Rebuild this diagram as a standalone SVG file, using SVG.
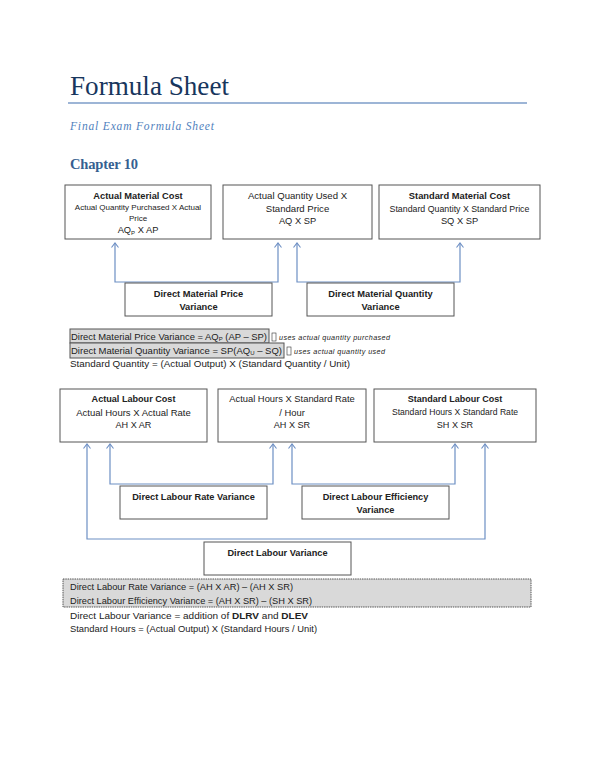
<svg xmlns="http://www.w3.org/2000/svg" width="595" height="770" viewBox="0 0 595 770">
<defs>
<marker id="arr" viewBox="-6 -5 8 10" markerWidth="8" markerHeight="10" refX="0" refY="0" orient="auto-start-reverse" markerUnits="userSpaceOnUse">
<path d="M-4.5,-3.5 L0,0 L-4.5,3.5" fill="none" stroke="#6d8fc4" stroke-width="1.1"/>
</marker>
<style>
.box{fill:#fff;stroke:#555;stroke-width:1}
.t{font-family:"Liberation Sans",Arial,sans-serif;fill:#222}
.c{text-anchor:middle}
.b{font-weight:bold}
.conn{fill:none;stroke:#6d8fc4;stroke-width:1.2}
.hl{fill:#d9d9d9;stroke:#555;stroke-width:1}
.note{font-family:"Liberation Sans",Arial,sans-serif;font-style:italic;font-size:7.2px;fill:#222}
</style>
</defs>
<rect width="595" height="770" fill="#fff"/>

<g id="header">
<text x="70" y="95" font-family="Liberation Serif,serif" font-size="28" fill="#17365D" textLength="159" lengthAdjust="spacingAndGlyphs">Formula Sheet</text>
<line x1="68" y1="103" x2="527" y2="103" stroke="#7c9cc8" stroke-width="1.5"/>
<text x="70" y="130" font-family="Liberation Serif,serif" font-style="italic" font-size="11.5" fill="#4F81BD" textLength="144">Final Exam Formula Sheet</text>
<text x="70" y="169" font-family="Liberation Serif,serif" font-weight="bold" font-size="14.5" fill="#365F91" textLength="68">Chapter 10</text>
</g>

<g id="connectors">
<path class="conn" d="M115,243 V282 H278 V243" marker-start="url(#arr)" marker-end="url(#arr)"/>
<path class="conn" d="M297,243 V282 H460 V243" marker-start="url(#arr)" marker-end="url(#arr)"/>
<path class="conn" d="M110,444 V484 H273 V444" marker-start="url(#arr)" marker-end="url(#arr)"/>
<path class="conn" d="M292,444 V484 H455 V444" marker-start="url(#arr)" marker-end="url(#arr)"/>
<path class="conn" d="M87,444 V539 H485 V444" marker-start="url(#arr)" marker-end="url(#arr)"/>
</g>

<g id="actual-material-cost">
<rect class="box" x="65" y="185" width="146" height="54"/>
<text class="t c b" x="138" y="199" font-size="9.3">Actual Material Cost</text>
<text class="t c" x="138" y="209.5" font-size="8">Actual Quantity Purchased X Actual</text>
<text class="t c" x="138" y="221" font-size="8">Price</text>
<text class="t c" x="138" y="233" font-size="9.3">AQ<tspan font-size="6" dy="1.5">P</tspan><tspan dy="-1.5"> X AP</tspan></text>
</g>

<g id="actual-quantity-used">
<rect class="box" x="223" y="185" width="149" height="54"/>
<text class="t c" x="297.5" y="199" font-size="9.6">Actual Quantity Used X</text>
<text class="t c" x="297.5" y="212" font-size="9.6">Standard Price</text>
<text class="t c" x="297.5" y="224" font-size="9.3">AQ X SP</text>
</g>

<g id="standard-material-cost">
<rect class="box" x="379" y="185" width="161" height="54"/>
<text class="t c b" x="459.5" y="199" font-size="9.3">Standard Material Cost</text>
<text class="t c" x="459.5" y="212" font-size="8.8">Standard Quantity X Standard Price</text>
<text class="t c" x="459.5" y="224" font-size="9.3">SQ X SP</text>
</g>

<g id="dm-price-variance">
<rect class="box" x="125" y="283" width="147" height="33"/>
<text class="t c b" x="198.5" y="297" font-size="9.3">Direct Material Price</text>
<text class="t c b" x="198.5" y="310" font-size="9.3">Variance</text>
</g>

<g id="dm-quantity-variance">
<rect class="box" x="307" y="283" width="147" height="33"/>
<text class="t c b" x="380.5" y="297" font-size="9.3">Direct Material Quantity</text>
<text class="t c b" x="380.5" y="310" font-size="9.3">Variance</text>
</g>

<g id="material-formulas">
<rect class="hl" x="70" y="329" width="199" height="14"/>
<rect class="hl" x="70" y="343" width="214" height="15"/>
<text class="t" x="71" y="339.5" font-size="9.5" textLength="196" lengthAdjust="spacingAndGlyphs">Direct Material Price Variance = AQ<tspan font-size="6" dy="1.5">P</tspan><tspan dy="-1.5"> (AP – SP)</tspan></text>
<rect x="272" y="333" width="4" height="8" fill="none" stroke="#333" stroke-width="0.6"/>
<text class="note" x="279" y="339.5" textLength="111">uses actual quantity purchased</text>
<text class="t" x="71" y="353.5" font-size="9.5" textLength="211" lengthAdjust="spacingAndGlyphs">Direct Material Quantity Variance = SP(AQ<tspan font-size="6" dy="1.5">U</tspan><tspan dy="-1.5"> – SQ)</tspan></text>
<rect x="287" y="347" width="4" height="8" fill="none" stroke="#333" stroke-width="0.6"/>
<text class="note" x="294" y="353.5" textLength="91">uses actual quantity used</text>
<text class="t" x="70" y="367" font-size="9.5" textLength="280" lengthAdjust="spacingAndGlyphs">Standard Quantity = (Actual Output) X (Standard Quantity / Unit)</text>
</g>

<g id="actual-labour-cost">
<rect class="box" x="60" y="389" width="147" height="53"/>
<text class="t c b" x="133.5" y="402" font-size="9.1">Actual Labour Cost</text>
<text class="t c" x="133.5" y="416" font-size="9.5">Actual Hours X Actual Rate</text>
<text class="t c" x="133.5" y="428" font-size="9.1">AH X AR</text>
</g>

<g id="actual-hours-standard-rate">
<rect class="box" x="218" y="389" width="148" height="53"/>
<text class="t c" x="292" y="402" font-size="9.4">Actual Hours X Standard Rate</text>
<text class="t c" x="292" y="416" font-size="9.4">/ Hour</text>
<text class="t c" x="292" y="428" font-size="9.1">AH X SR</text>
</g>

<g id="standard-labour-cost">
<rect class="box" x="374" y="389" width="162" height="53"/>
<text class="t c b" x="455" y="402" font-size="9">Standard Labour Cost</text>
<text class="t c" x="455" y="415" font-size="8.6">Standard Hours X Standard Rate</text>
<text class="t c" x="455" y="428" font-size="9.1">SH X SR</text>
</g>

<g id="dl-rate-variance">
<rect class="box" x="120" y="486" width="147" height="33"/>
<text class="t c b" x="193.5" y="500" font-size="9.2">Direct Labour Rate Variance</text>
</g>

<g id="dl-efficiency-variance">
<rect class="box" x="302" y="486" width="147" height="33"/>
<text class="t c b" x="375.5" y="500" font-size="9.2">Direct Labour Efficiency</text>
<text class="t c b" x="375.5" y="513" font-size="9.2">Variance</text>
</g>

<g id="dl-variance">
<rect class="box" x="204" y="542" width="147" height="33"/>
<text class="t c b" x="277.5" y="556" font-size="9.2">Direct Labour Variance</text>
</g>

<g id="labour-formulas">
<rect class="hl" x="63" y="579" width="468" height="28" stroke="#666" stroke-dasharray="1.5,0.8"/>
<text class="t" x="70" y="590" font-size="9.5" textLength="223" lengthAdjust="spacingAndGlyphs">Direct Labour Rate Variance = (AH X AR) – (AH X SR)</text>
<text class="t" x="70" y="604" font-size="9.5" textLength="242" lengthAdjust="spacingAndGlyphs">Direct Labour Efficiency Variance = (AH X SR) – (SH X SR)</text>
<text class="t" x="70" y="619" font-size="9.5" textLength="238" lengthAdjust="spacingAndGlyphs">Direct Labour Variance = addition of <tspan font-weight="bold">DLRV</tspan> and <tspan font-weight="bold">DLEV</tspan></text>
<text class="t" x="70" y="632" font-size="9.5" textLength="247" lengthAdjust="spacingAndGlyphs">Standard Hours = (Actual Output) X (Standard Hours / Unit)</text>
</g>
</svg>
